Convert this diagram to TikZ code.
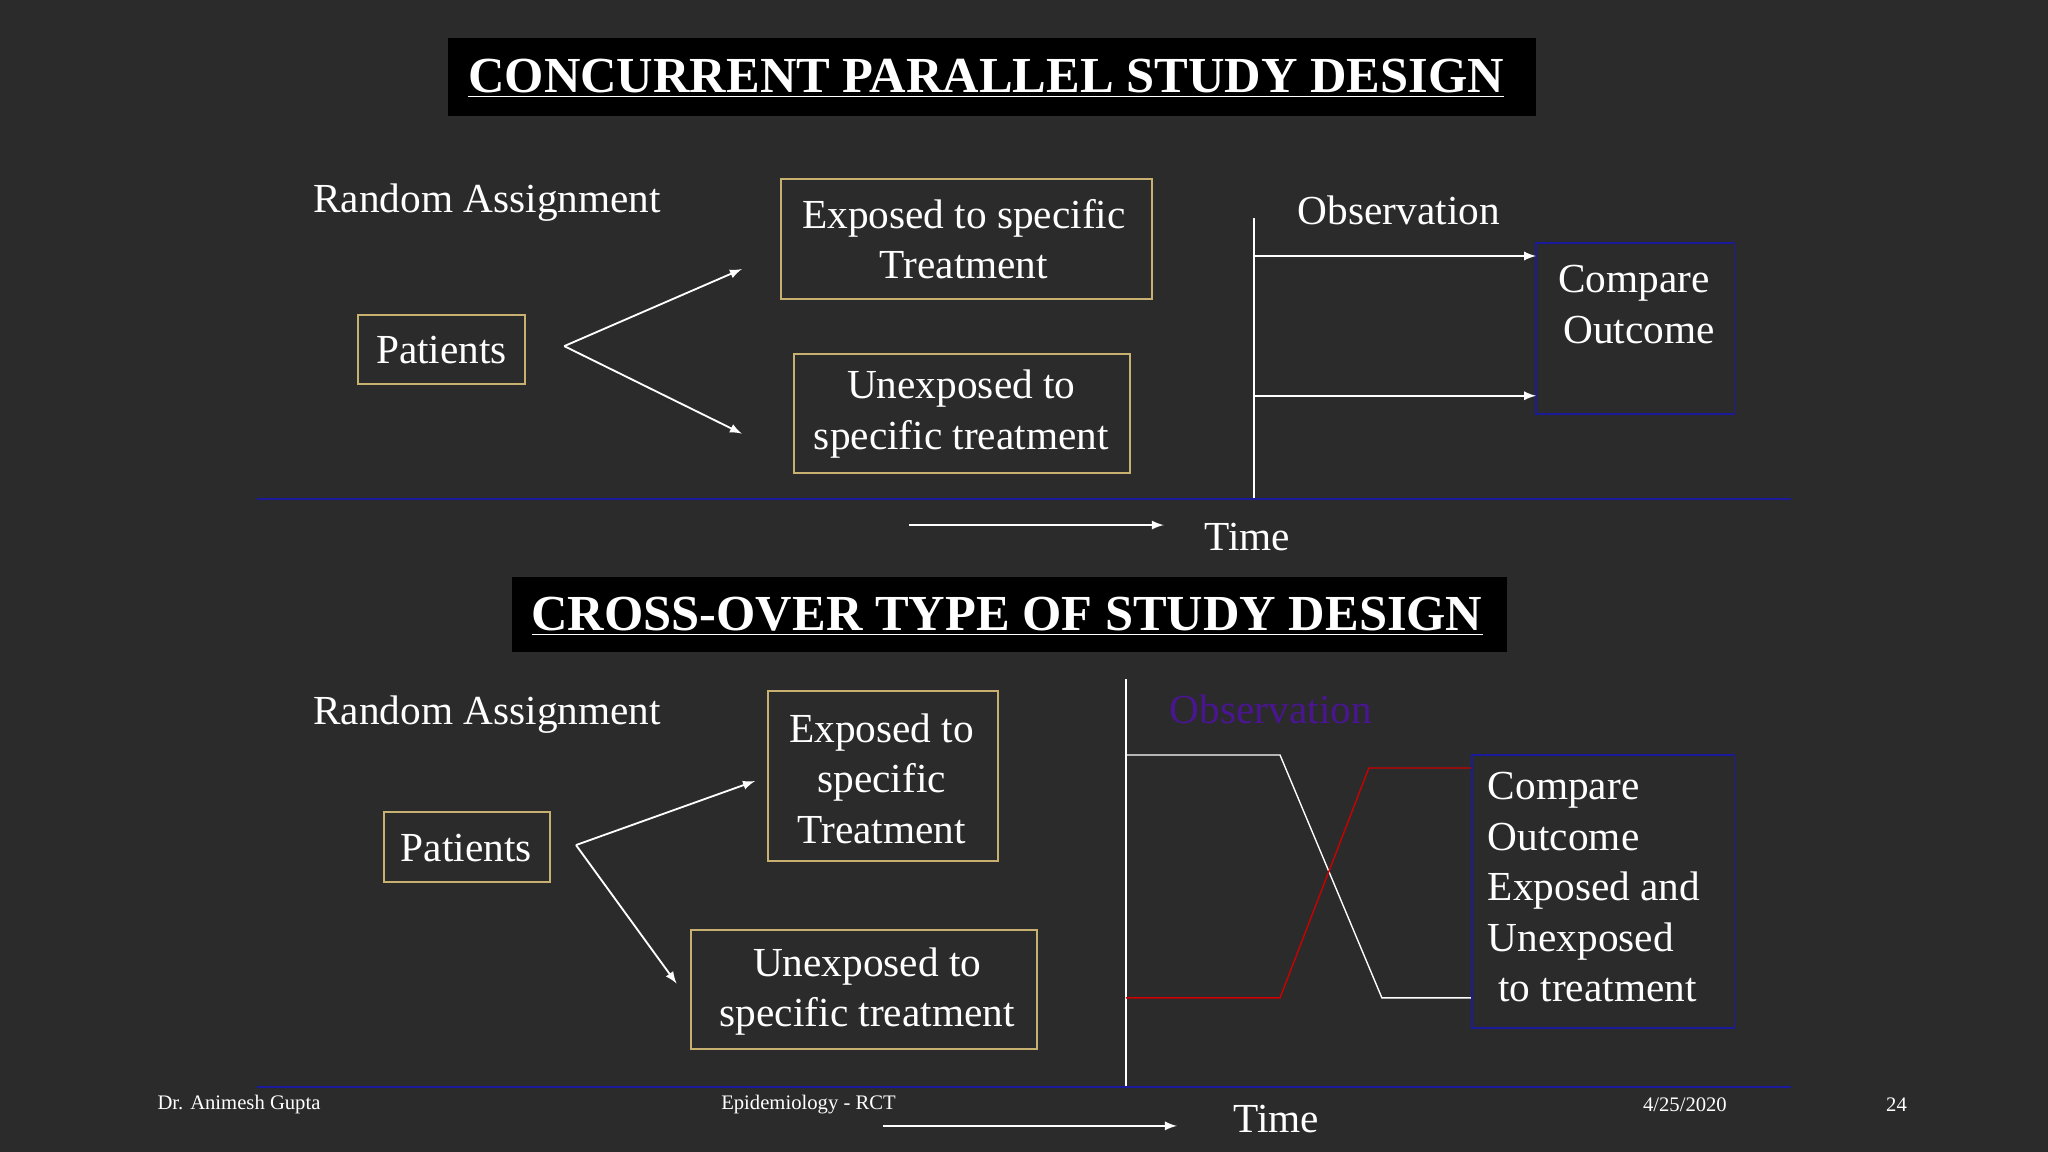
\documentclass[tikz,border=0pt]{standalone}
\usepackage{fontspec}
\setmainfont{Liberation Serif}
\usetikzlibrary{positioning}
\definecolor{bg}{HTML}{2B2B2B}
\definecolor{gold}{HTML}{C8B070}
\definecolor{navy}{HTML}{1A1A9A}
\definecolor{obs}{HTML}{4A1590}
\begin{document}
\begin{tikzpicture}[
                        x=0.02cm, y=-0.02cm,
                        >=latex,
                        every node/.style={text=white, font=\fontsize{18}{22}\selectfont},
                        title/.style={fill=black, font=\fontsize{22}{26}\selectfont\bfseries, inner sep=0pt},
                        block/.style={draw=gold, thick, align=center, inner sep=3pt},
                        line/.style={white, thick},
                        foot/.style={font=\fontsize{9}{10}\selectfont}
                    ]
                    \fill [bg] (0,0) rectangle (1568,882);
                    \useasboundingbox (0,0) rectangle (1568,882);

                    % Upper design
                    \fill [black] (343,29) rectangle (1176,89);
                    \node [title] (title1) at (755,60) {\underline{CONCURRENT PARALLEL STUDY DESIGN}};
                    \node (random1) at (373,155) {Random Assignment};
                    \draw [block] (274,241) rectangle (402,294);
                    \node (pat1) at (338,268) {Patients};
                    \draw [block] (598,137) rectangle (882,229);
                    \node [align=center] (exp1) at (738,183) {Exposed to specific\\Treatment};
                    \draw [block] (608,271) rectangle (865,362);
                    \node [align=center] (unexp1) at (736,317) {Unexposed to\\specific treatment};
                    \coordinate (fork1) at (432,265);
                    \coordinate (up1) at (568,206);
                    \coordinate (down1) at (568,332);
                    \draw [line, ->] (fork1) -- (up1);
                    \draw [line, ->] (fork1) -- (down1);
                    \coordinate (vtop1) at (960,167);
                    \coordinate (vbot1) at (960,382);
                    \draw [line] (vtop1) -- (vbot1);
                    \node (obs1) at (1071,161) {Observation};
                    \draw [navy, thick] (1176,186) rectangle (1328,317);
                    \node [align=center] (cmp1) at (1251,233) {Compare\\\ Outcome};
                    \coordinate (a1) at (960,196);
                    \coordinate (b1) at (1176,196);
                    \coordinate (a2) at (960,303);
                    \coordinate (b2) at (1176,303);
                    \draw [line, ->] (a1) -- (b1);
                    \draw [line, ->] (a2) -- (b2);
                    \coordinate (hl1) at (197,382);
                    \coordinate (hr1) at (1371,382);
                    \draw [navy, thick] (hl1) -- (hr1);
                    \coordinate (t1s) at (696,402);
                    \coordinate (t1e) at (891,402);
                    \draw [line, ->] (t1s) -- (t1e);
                    \node (time1) at (955,411) {Time};

                    % Lower design
                    \fill [black] (392,442) rectangle (1154,499);
                    \node [title] (title2) at (771,472) {\underline{CROSS-OVER TYPE OF STUDY DESIGN}};
                    \node (random2) at (373,547) {Random Assignment};
                    \draw [block] (294,622) rectangle (421,675);
                    \node (pat2) at (357,649) {Patients};
                    \draw [block] (588,529) rectangle (764,659);
                    \node [align=center] (exp2) at (675,596) {Exposed to\\specific\\Treatment};
                    \draw [block] (529,712) rectangle (794,803);
                    \node [align=center] (unexp2) at (664,759) {Unexposed to\\specific treatment};
                    \coordinate (fork2) at (441,647);
                    \coordinate (up2) at (578,598);
                    \coordinate (down2) at (518,753);
                    \draw [line, ->] (fork2) -- (up2);
                    \draw [line, ->] (fork2) -- (down2);
                    \coordinate (vtop2) at (862,520);
                    \coordinate (vbot2) at (862,832);
                    \draw [line] (vtop2) -- (vbot2);
                    \node [text=obs] (obs2) at (973,543) {Observation};
                    \draw [white, semithick] (862,578) -- (980,578) -- (1058,764) -- (1127,764);
                    \draw [red!80!black, semithick] (862,764) -- (980,764) -- (1048,588) -- (1127,588);
                    \draw [navy, thick] (1127,578) rectangle (1328,787);
                    \node [align=left, anchor=north west] (cmp2) at (1133,585) {Compare\\Outcome\\Exposed and\\Unexposed\\\ to treatment};
                    \coordinate (hl2) at (197,832);
                    \coordinate (hr2) at (1371,832);
                    \draw [navy, thick] (hl2) -- (hr2);
                    \coordinate (t2s) at (676,862);
                    \coordinate (t2e) at (901,862);
                    \draw [line, ->] (t2s) -- (t2e);
                    \node (time2) at (977,857) {Time};

                    % Footer
                    \node [foot] (author) at (183,846) {Dr. Animesh Gupta};
                    \node [foot] (topic) at (619,846) {Epidemiology - RCT};
                    \node [foot] (date) at (1290,846) {4/25/2020};
                    \node [foot] (page) at (1452,846) {24};
                \end{tikzpicture}
\end{document}
